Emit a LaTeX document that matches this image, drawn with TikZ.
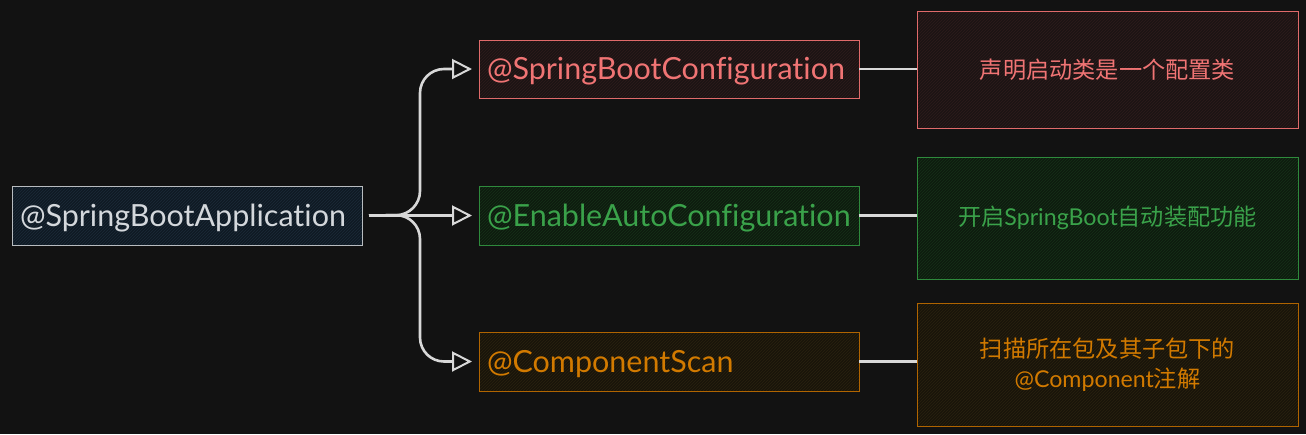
\documentclass[tikz,border=0pt]{standalone}
\usepackage{fontspec}
\setmainfont{Lato}[Ligatures=NoCommon]
\newfontfamily\cjk{Noto Sans CJK SC}
\usetikzlibrary{arrows.meta,patterns}
\definecolor{bg}{HTML}{121212}
\definecolor{conncol}{HTML}{D8D8D8}
\definecolor{rootline}{HTML}{B8BCC0}
\definecolor{rootfill}{HTML}{0F1A24}
\definecolor{roothatch}{HTML}{1C2A38}
\definecolor{roottext}{HTML}{D4D8DC}
\definecolor{redline}{HTML}{E06A6A}
\definecolor{redfill}{HTML}{1C1414}
\definecolor{redhatch}{HTML}{2E1C1C}
\definecolor{redtext}{HTML}{F07474}
\definecolor{greenline}{HTML}{2E8A3C}
\definecolor{greenfill}{HTML}{0E1C0F}
\definecolor{greenhatch}{HTML}{163018}
\definecolor{greentext}{HTML}{3AA24A}
\definecolor{orangeline}{HTML}{B06400}
\definecolor{orangefill}{HTML}{19140A}
\definecolor{orangehatch}{HTML}{2A2210}
\definecolor{orangetext}{HTML}{D27A00}
\begin{document}
\begin{tikzpicture}[x=1pt,y=-1pt,
  box/.style n args={3}{draw=#1, line width=1pt, anchor=north west, outer sep=0pt,
     preaction={fill=#2}, pattern=north east lines, pattern color=#3},
  leftbox/.style={inner xsep=8pt, inner ysep=0pt, align=left, text height=21pt, text depth=0pt,
     font=\fontsize{30.5}{34}\selectfont},
  descbox/.style={inner sep=0pt, align=center, font=\fontsize{23.2}{30}\selectfont},
  conn/.style={draw=conncol, line width=2.6pt},
  link/.style={draw=conncol, line width=2.2pt},
  tip/.style={-{Triangle[open,length=20pt,width=20pt,line width=2pt]}, shorten >=7pt}
]
\fill[bg] (0,0) rectangle (1306,434);
\useasboundingbox (0,0) rectangle (1306,434);

% root
\node[box={rootline}{rootfill}{roothatch}, leftbox, text width=334pt, minimum height=59pt, text=roottext]
  (root) at (12,186) {@SpringBootApplication};

% middle boxes
\node[box={redline}{redfill}{redhatch}, leftbox, text width=364pt, minimum height=58pt, text=redtext]
  (m1) at (479,40) {@SpringBootConfiguration};
\node[box={greenline}{greenfill}{greenhatch}, leftbox, text width=364pt, minimum height=59pt, text=greentext]
  (m2) at (479,186) {@EnableAutoConfiguration};
\node[box={orangeline}{orangefill}{orangehatch}, leftbox, text width=364pt, minimum height=59pt, text=orangetext]
  (m3) at (479,332) {@ComponentScan};

% right boxes
\node[box={redline}{redfill}{redhatch}, descbox, minimum width=381pt, minimum height=117pt, text=redtext]
  (r1) at (917,11) {{\cjk 声明启动类是一个配置类}};
\node[box={greenline}{greenfill}{greenhatch}, descbox, minimum width=381pt, minimum height=122pt, text=greentext]
  (r2) at (917,157) {{\cjk 开启}SpringBoot{\cjk 自动装配功能}};
\node[box={orangeline}{orangefill}{orangehatch}, descbox, minimum width=381pt, minimum height=123pt, text=orangetext]
  (r3) at (917,303) {{\cjk 扫描所在包及其子包下的}\\@Component{\cjk 注解}};

% connectors
\coordinate (fork) at (420,215);
\draw[conn, tip, shorten <=7pt, rounded corners=24pt] (root.east) -- (fork) -- (fork |- m1.west) -- (m1.west);
\draw[conn, tip, shorten <=7pt, rounded corners=24pt] (root.east) -- (fork) -- (fork |- m3.west) -- (m3.west);
\draw[conn, tip, shorten <=7pt] (root.east) -- (m2.west);

\draw[link] (m1.east) -- (m1.east -| r1.west);
\draw[link] (m2.east) -- (m2.east -| r2.west);
\draw[link] (m3.east) -- (m3.east -| r3.west);
\end{tikzpicture}
\end{document}
